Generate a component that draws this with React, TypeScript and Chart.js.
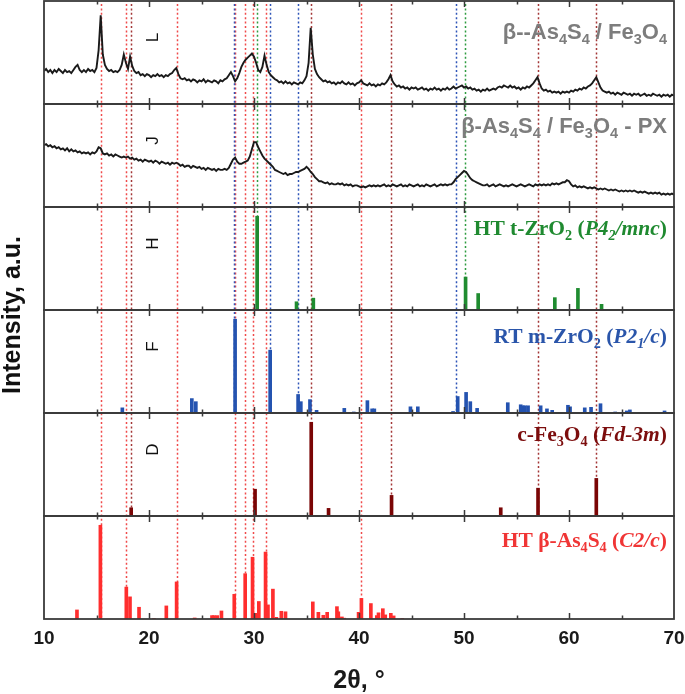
import React, { useEffect, useRef } from 'react';
import { Chart, registerables } from 'chart.js';

Chart.register(...registerables);

// ---- Data ----
const scanStart = 10;
const scanStep = 0.2;

// Sample L: β-As4S4 / Fe3O4 (relative intensity, % of panel)
const patternL = [
  32, 34, 31, 33, 30, 33, 31, 34, 32, 30,
  33, 31, 32, 30, 33, 36, 38, 33, 31, 33,
  31, 34, 32, 33, 31, 35, 52, 86, 48, 38,
  34, 32, 33, 31, 32, 31, 33, 38, 48, 40,
  34, 46, 37, 32, 30, 31, 28, 29, 27, 29,
  28, 26, 28, 27, 29, 27, 28, 26, 28, 27,
  29, 30, 33, 35, 29, 25, 24, 25, 23, 24,
  22, 24, 23, 21, 23, 22, 24, 21, 23, 22,
  21, 23, 22, 20, 23, 22, 24, 25, 28, 31,
  27, 22, 25, 30, 36, 40, 43, 45, 47, 49,
  46, 40, 33, 31, 36, 47, 38, 31, 28, 26,
  24, 23, 21, 22, 20, 22, 20, 21, 19, 21,
  20, 19, 21, 20, 23, 27, 40, 74, 48, 34,
  29, 26, 24, 22, 23, 21, 22, 20, 21, 19,
  21, 20, 22, 20, 19, 21, 19, 20, 18, 20,
  21, 23, 20, 19, 18, 20, 18, 19, 17, 19,
  18, 20, 19, 21, 24, 28, 22, 19, 17, 18,
  16, 17, 15, 16, 14, 16, 15, 16, 14, 15,
  16, 14, 15, 13, 15, 14, 16, 14, 15, 13,
  15, 14, 16, 14, 15, 17, 15, 16, 17, 18,
  16, 17, 15, 16, 14, 15, 13, 14, 12, 14,
  13, 15, 13, 14, 15, 14, 16, 17, 16, 18,
  17, 16, 18, 16, 17, 15, 16, 14, 16, 15,
  17, 16, 18, 20, 23, 26, 20, 15, 13, 14,
  12, 13, 11, 12, 11, 12, 10, 12, 11, 12,
  11, 13, 12, 14, 13, 15, 14, 16, 15, 17,
  18, 20, 23, 26, 21, 16, 13, 12, 11, 12,
  10, 11, 9, 11, 10, 9, 11, 10, 9, 10,
  8, 10, 9, 10, 8, 9, 10, 8, 9, 8,
  10, 9, 8, 9, 7, 9, 8, 9, 7, 9,
  8,
];

// Sample J: β-As4S4 / Fe3O4 - PX
const patternJ = [
  60, 61, 59, 60, 58, 59, 57, 58, 56, 57,
  55, 57, 54, 56, 54, 55, 53, 54, 52, 53,
  52, 53, 51, 53, 52, 54, 58, 57, 52, 51,
  52, 50, 51, 49, 51, 50, 49, 48, 49, 48,
  49, 47, 48, 46, 47, 45, 46, 44, 46, 45,
  44, 45, 43, 45, 44, 42, 44, 43, 42, 43,
  41, 43, 42, 43, 42, 40, 41, 39, 40, 40,
  38, 40, 39, 38, 39, 37, 38, 36, 38, 37,
  36, 37, 35, 37, 36, 36, 37, 36, 38, 42,
  46, 48, 44, 42, 42, 43, 44, 45, 49, 56,
  63, 63, 58, 54, 50, 47, 45, 43, 41, 39,
  36, 35, 34, 33, 32, 33, 31, 32, 32, 33,
  34, 34, 35, 36, 37, 39, 37, 34, 32, 29,
  27, 25, 25, 24, 23, 24, 22, 23, 22, 22,
  23, 22, 23, 21, 22, 21, 22, 20, 21, 21,
  20, 19, 20, 19, 20, 21, 20, 21, 20, 21,
  20, 21, 22, 20, 21, 20, 22, 21, 20, 21,
  22, 20, 21, 20, 22, 21, 20, 21, 22, 20,
  21, 20, 22, 21, 20, 21, 22, 20, 21, 22,
  21, 22, 21, 22, 22, 24, 27, 29, 31, 33,
  35, 34, 31, 28, 26, 25, 24, 23, 22, 21,
  21, 22, 20, 21, 22, 20, 21, 22, 21, 20,
  21, 20, 21, 22, 21, 20, 21, 22, 21, 20,
  21, 22, 21, 20, 22, 21, 22, 21, 22, 21,
  22, 21, 23, 22, 23, 22, 23, 24, 24, 26,
  25, 22, 20, 21, 19, 20, 19, 20, 19, 18,
  19, 18, 19, 18, 17, 18, 17, 18, 17, 16,
  17, 16, 17, 16, 15, 16, 15, 16, 15, 16,
  15, 16, 15, 14, 15, 14, 15, 14, 13, 14,
  13, 14, 13, 14, 12, 13, 12, 13, 12, 13,
  12,
];

// H: HT t-ZrO2 reference
const tZrO2Pos = [30.3, 34.05, 35.65, 42.8, 50.15, 51.35, 58.65, 60.85, 63.1];
const tZrO2Int = [91, 8, 11.5, 0.6, 32, 16, 12, 21, 5.5];

// F: RT m-ZrO2 reference
const mZrO2Pos = [17.46, 24.08, 24.46, 28.2, 31.54, 34.2, 34.46, 35.33, 35.96, 38.6, 39.5, 40.8, 41.25, 41.46, 44.9, 45.6, 48.96, 49.4, 50.2, 50.6, 51.25, 54.17, 55.4, 55.6, 55.8, 56.1, 57.3, 57.9, 58.4, 59.9, 60.1, 61.5, 62.1, 63.0, 64.4, 65.5, 65.8, 69.1];
const mZrO2Int = [5, 14, 11, 91, 61, 18, 11, 13, 2.6, 4.5, 1, 12, 4, 4, 6, 6, 1.5, 16, 20, 11, 4.5, 10, 8, 7, 7, 7, 7, 4, 2.6, 7.5, 6, 5, 5.5, 9, 1, 2, 3, 2];

// D: c-Fe3O4 reference
const fe3o4Pos = [18.3, 30.1, 35.45, 37.1, 43.1, 47.3, 53.5, 57.05, 62.6, 65.8];
const fe3o4Int = [8, 26, 91, 7.4, 20, 0.5, 8, 27, 36.5, 0.5];

// Bottom: HT β-As4S4 reference
const as4s4Pos = [13.14, 15.37, 17.84, 18.19, 19.05, 20.48, 21.65, 22.63, 24.35, 26.0, 26.2, 26.5, 26.9, 28.12, 29.16, 29.86, 30.12, 30.46, 31.1, 31.33, 31.8, 32.13, 32.6, 33.0, 35.6, 36.13, 36.6, 36.97, 37.9, 38.03, 38.37, 38.6, 39.96, 40.23, 41.13, 41.7, 41.86, 42.27, 42.5, 43.03, 43.3, 44.12];
const as4s4Int = [8.8, 91, 31, 21.5, 11.4, 0.5, 12.7, 36, 1, 3.3, 3.3, 3.3, 7.8, 24, 44, 60, 5.5, 17, 65, 13.7, 29, 1.6, 7.5, 7, 16.6, 6.5, 3.6, 6.5, 12, 7, 2, 0.8, 6.5, 20, 15, 3.3, 6, 10, 4, 5.5, 3, 0.5];

// Dotted guide lines
const refRed = [15.4, 17.85, 22.65, 28.15, 29.15, 29.9, 31.1, 40.2];
const refDarkRed = [18.3, 35.45, 43.05, 57.05, 62.6];
const refBlue = [28.1, 31.5, 34.2, 49.25];
const refGreen = [30.25, 50.1];

const xMajorTicks = [20, 30, 40, 50, 60];
const xMinorTicks = [15, 25, 35, 45, 55, 65];

type Seg = { t: string; sub?: boolean; it?: boolean };
const titleL: Seg[] = [{ t: 'β--As' }, { t: '4', sub: true }, { t: 'S' }, { t: '4', sub: true }, { t: ' / Fe' }, { t: '3', sub: true }, { t: 'O' }, { t: '4', sub: true }];
const titleJ: Seg[] = [{ t: 'β-As' }, { t: '4', sub: true }, { t: 'S' }, { t: '4', sub: true }, { t: ' / Fe' }, { t: '3', sub: true }, { t: 'O' }, { t: '4', sub: true }, { t: ' - PX' }];
const titleT: Seg[] = [{ t: 'HT t-ZrO' }, { t: '2', sub: true }, { t: ' (' }, { t: 'P4', it: true }, { t: '2', sub: true, it: true }, { t: '/mnc', it: true }, { t: ')' }];
const titleM: Seg[] = [{ t: 'RT m-ZrO' }, { t: '2', sub: true }, { t: ' (' }, { t: 'P2', it: true }, { t: '1', sub: true, it: true }, { t: '/c', it: true }, { t: ')' }];
const titleFe: Seg[] = [{ t: 'c-Fe' }, { t: '3', sub: true }, { t: 'O' }, { t: '4', sub: true }, { t: ' (' }, { t: 'Fd-3m', it: true }, { t: ')' }];
const titleAs: Seg[] = [{ t: 'HT β-As' }, { t: '4', sub: true }, { t: 'S' }, { t: '4', sub: true }, { t: ' (' }, { t: 'C2/c', it: true }, { t: ')' }];

const panelIds = ['yL', 'yJ', 'yT', 'yM', 'yFe', 'yAs'];
const panelLetters = ['L', 'J', 'H', 'F', 'D', ''];

const SANS = '"Liberation Sans", Arial, sans-serif';
const SERIF = '"Liberation Serif", "Times New Roman", serif';

const panelTitles = [
  { segs: titleL, color: '#7d7d7d', family: SANS, size: 22, frac: 0.37 },
  { segs: titleJ, color: '#7d7d7d', family: SANS, size: 22, frac: 0.28 },
  { segs: titleT, color: '#1f8a30', family: SERIF, size: 21.5, frac: 0.27 },
  { segs: titleM, color: '#2a55aa', family: SERIF, size: 21.5, frac: 0.32 },
  { segs: titleFe, color: '#7c0d0d', family: SERIF, size: 21.5, frac: 0.27 },
  { segs: titleAs, color: '#f03535', family: SERIF, size: 21.5, frac: 0.3 },
];

function drawRich(ctx: CanvasRenderingContext2D, segs: Seg[], right: number, baseline: number, size: number, family: string, color: string) {
  const fontOf = (s: Seg) => `${s.it ? 'italic ' : ''}bold ${s.sub ? size * 0.66 : size}px ${family}`;
  let w = 0;
  for (const s of segs) {
    ctx.font = fontOf(s);
    w += ctx.measureText(s.t).width;
  }
  let x = right - w;
  ctx.fillStyle = color;
  ctx.textAlign = 'left';
  ctx.textBaseline = 'alphabetic';
  for (const s of segs) {
    ctx.font = fontOf(s);
    ctx.fillText(s.t, x, baseline + (s.sub ? size * 0.22 : 0));
    x += ctx.measureText(s.t).width;
  }
}

const panelPlugin = {
  id: 'panelDecor',
  beforeDatasetsDraw(chart: any) {
    const { ctx, chartArea, scales } = chart;
    const xs = scales.x;
    const groups = [
      { pos: refRed, color: '#f04a4a', end: 'yAs' },
      { pos: refDarkRed, color: '#a33636', end: 'yFe' },
      { pos: refBlue, color: '#2f55b8', end: 'yM' },
      { pos: refGreen, color: '#2f9c40', end: 'yT' },
    ];
    ctx.save();
    ctx.lineWidth = 1.5;
    ctx.setLineDash([2, 2.4]);
    for (const g of groups) {
      ctx.strokeStyle = g.color;
      const bottom = scales[g.end].bottom;
      for (const v of g.pos) {
        const px = Math.round(xs.getPixelForValue(v)) + 0.5;
        ctx.beginPath();
        ctx.moveTo(px, chartArea.top + 3);
        ctx.lineTo(px, bottom);
        ctx.stroke();
      }
    }
    ctx.restore();
  },
  afterDatasetsDraw(chart: any) {
    const { ctx, chartArea, scales } = chart;
    const xs = scales.x;
    ctx.save();
    // frames & ticks
    ctx.strokeStyle = '#3a3a3a';
    for (const id of panelIds) {
      const s = scales[id];
      ctx.lineWidth = 1.8;
      ctx.strokeRect(chartArea.left, s.top, chartArea.right - chartArea.left, s.bottom - s.top);
      ctx.lineWidth = 1.5;
      const drawTicks = (vals: number[], len: number) => {
        for (const v of vals) {
          const px = Math.round(xs.getPixelForValue(v)) + 0.5;
          ctx.beginPath();
          ctx.moveTo(px, s.bottom);
          ctx.lineTo(px, s.bottom - len);
          ctx.moveTo(px, s.top);
          ctx.lineTo(px, s.top + len);
          ctx.stroke();
        }
      };
      drawTicks(xMajorTicks, 6);
      drawTicks(xMinorTicks, 3.5);
    }
    // panel letters
    ctx.fillStyle = '#111';
    ctx.font = `17px ${SANS}`;
    ctx.textAlign = 'center';
    ctx.textBaseline = 'middle';
    panelIds.forEach((id, i) => {
      if (!panelLetters[i]) return;
      const s = scales[id];
      const px = xs.getPixelForValue(20.38);
      const py = s.getPixelForValue(64.5);
      ctx.save();
      ctx.translate(px, py);
      ctx.rotate(-Math.PI / 2);
      ctx.fillText(panelLetters[i], 0, 0);
      ctx.restore();
    });
    // panel titles
    panelIds.forEach((id, i) => {
      const s = scales[id];
      const t = panelTitles[i];
      drawRich(ctx, t.segs, chartArea.right - 7, s.top + t.frac * (s.bottom - s.top), t.size, t.family, t.color);
    });
    // y-axis title
    ctx.save();
    ctx.translate(13, (chartArea.top + chartArea.bottom) / 2 + 5);
    ctx.rotate(-Math.PI / 2);
    ctx.fillStyle = '#111';
    ctx.font = `bold 25px ${SANS}`;
    ctx.textAlign = 'center';
    ctx.textBaseline = 'middle';
    ctx.fillText('Intensity, a.u.', 0, 0);
    ctx.restore();
    ctx.restore();
  },
};

function pattern(vals: number[]) {
  return vals.map((y, i) => ({ x: +(scanStart + i * scanStep).toFixed(2), y }));
}
function sticks(pos: number[], ints: number[]) {
  return pos.map((x, i) => ({ x, y: ints[i] }));
}

export default function App() {
  const ref = useRef<HTMLCanvasElement | null>(null);
  useEffect(() => {
    document.body.style.margin = '0';
    if (!ref.current) return;
    const yScale = () => ({
      type: 'linear' as const,
      display: false,
      position: 'left' as const,
      stack: 'panels',
      stackWeight: 1,
      min: 0,
      max: 100,
    });
    const barDs = (label: string, data: any[], color: string, yAxisID: string) => ({
      type: 'bar' as const,
      label,
      data,
      backgroundColor: color,
      borderWidth: 0,
      barThickness: 3,
      grouped: false,
      yAxisID,
      xAxisID: 'x',
    });
    const lineDs = (label: string, data: any[], yAxisID: string) => ({
      type: 'line' as const,
      label,
      data,
      borderColor: '#1a1a1a',
      borderWidth: 1.9,
      pointRadius: 0,
      tension: 0,
      yAxisID,
      xAxisID: 'x',
    });
    const chart = new Chart(ref.current, {
      type: 'bar',
      data: {
        datasets: [
          lineDs('L', pattern(patternL), 'yL'),
          lineDs('J', pattern(patternJ), 'yJ'),
          barDs('HT t-ZrO2', sticks(tZrO2Pos, tZrO2Int), '#1f8c30', 'yT'),
          barDs('RT m-ZrO2', sticks(mZrO2Pos, mZrO2Int), '#2453b0', 'yM'),
          barDs('c-Fe3O4', sticks(fe3o4Pos, fe3o4Int), '#7a0505', 'yFe'),
          barDs('HT β-As4S4', sticks(as4s4Pos, as4s4Int), '#ff2e2e', 'yAs'),
        ] as any,
      },
      options: {
        animation: false,
        responsive: true,
        maintainAspectRatio: false,
        devicePixelRatio: 1,
        layout: { padding: { left: 44, right: 11, top: 1, bottom: 0 } },
        plugins: { legend: { display: false }, tooltip: { enabled: false }, title: { display: false } },
        scales: {
          x: {
            type: 'linear',
            position: 'bottom',
            offset: false,
            min: 10,
            max: 70,
            afterFit: (s: any) => {
              s.height = 75;
              s.paddingLeft = 0;
              s.paddingRight = 0;
            },
            grid: { display: false, drawTicks: false, offset: false },
            border: { display: false },
            ticks: {
              stepSize: 10,
              maxRotation: 0,
              autoSkip: false,
              padding: 8,
              color: '#1a1a1a',
              font: { family: SANS, size: 19, weight: 'bold' },
            },
            title: {
              display: true,
              text: '2θ, °',
              color: '#1a1a1a',
              font: { family: SANS, size: 25, weight: 'bold', lineHeight: 1 },
              padding: { top: 0, bottom: 0 },
            },
          },
          yAs: yScale(),
          yFe: yScale(),
          yM: yScale(),
          yT: yScale(),
          yJ: yScale(),
          yL: yScale(),
        } as any,
      },
      plugins: [panelPlugin],
    });
    return () => chart.destroy();
  }, []);
  return (
    <div style={{ width: 685, height: 694, position: 'relative' }}>
      <canvas ref={ref} />
    </div>
  );
}
